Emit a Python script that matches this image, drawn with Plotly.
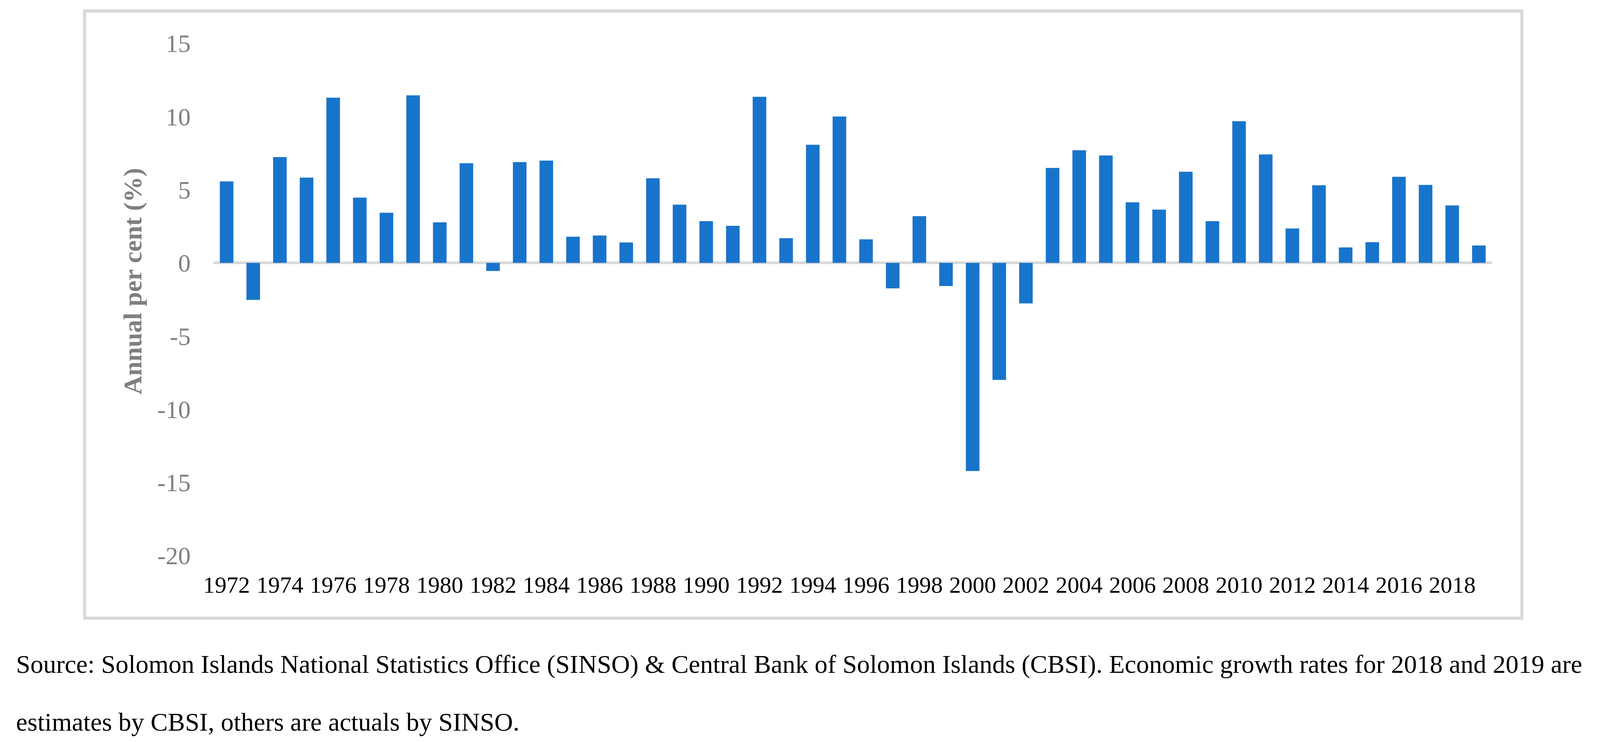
import plotly.graph_objects as go

years = list(range(1972, 2020))
growth = [5.57, -2.53, 7.23, 5.83, 11.29, 4.46, 3.43, 11.45, 2.77, 6.81,
          -0.55, 6.89, 6.99, 1.79, 1.87, 1.40, 5.78, 3.98, 2.85, 2.53,
          11.35, 1.69, 8.07, 10.0, 1.61, -1.74, 3.19, -1.58, -14.22, -7.99,
          -2.77, 6.49, 7.70, 7.34, 4.14, 3.64, 6.23, 2.85, 9.68, 7.41,
          2.35, 5.30, 1.06, 1.42, 5.88, 5.33, 3.93, 1.19]
tick_years = list(range(1972, 2019, 2))
y_ticks = [-20, -15, -10, -5, 0, 5, 10, 15]
y_ticktext = ["-20", "-15", "-10", "-5", "0", "5", "10", "15"]

y_title = "Annual per cent (%)"
caption1 = ("Source: Solomon Islands National Statistics Office (SINSO) &amp; Central Bank of Solomon "
            "Islands (CBSI). Economic growth rates for 2018 and 2019 are")
caption2 = "estimates by CBSI, others are actuals by SINSO."

# The browser viewport is 4096 px wide (body margin 8 px), so the layout of the
# 4426 px reference is mapped horizontally into it.
REF_W = 4426
VIEW_W = 4096
PAGE_MARGIN = 8
K = VIEW_W / REF_W
W, H = VIEW_W - 2 * PAGE_MARGIN, 1899 - 2 * PAGE_MARGIN


def fx(x_ref):
    return x_ref * K - PAGE_MARGIN


def fy(y_ref):
    return y_ref - PAGE_MARGIN


L = fx(590)
R = W - fx(4128)
T = fy(111)
B = H - fy(1422)
pw, ph = W - L - R, H - T - B


def px_x(x_ref):
    return (fx(x_ref) - L) / pw


def px_y(y_ref):
    return (H - B - fy(y_ref)) / ph


fig = go.Figure()
fig.add_trace(go.Bar(x=years, y=growth, width=0.51,
                     marker=dict(color="#1874CB", line=dict(width=0))))

serif = "Liberation Serif, Times New Roman, serif"
fig.update_layout(
    width=W, height=H,
    margin=dict(l=L, r=R, t=T, b=B, pad=0),
    paper_bgcolor="white", plot_bgcolor="white",
    showlegend=False,
    xaxis=dict(range=[1971.5, 2019.5], tickmode="array", tickvals=tick_years,
               ticktext=[str(y) for y in tick_years], showgrid=False,
               zeroline=False, showline=False, ticks="",
               tickfont=dict(family=serif, size=60, color="black"),
               ticklabelstandoff=34),
    yaxis=dict(range=[-20, 15], tickmode="array", tickvals=y_ticks,
               ticktext=y_ticktext,
               showgrid=False, zeroline=True, zerolinecolor="#d9d9d9",
               zerolinewidth=7, showline=False, ticks="",
               tickfont=dict(family=serif, size=64, color="#7f7f7f"),
               ticklabelstandoff=57),
    shapes=[dict(type="rect", xref="paper", yref="paper",
                 x0=px_x(234), x1=px_x(4210), y0=px_y(1582), y1=px_y(28),
                 line=dict(color="#d9d9d9", width=8), fillcolor="rgba(0,0,0,0)",
                 layer="below")],
    annotations=[
        dict(text="<b>" + y_title + "</b>", xref="paper", yref="paper",
             x=px_x(367), y=px_y(720), textangle=-90, showarrow=False,
             font=dict(family=serif, size=66, color="#7f7f7f"),
             xanchor="center", yanchor="middle"),
        dict(text=caption1, xref="paper", yref="paper",
             x=px_x(42), y=px_y(1700), showarrow=False,
             xanchor="left", yanchor="middle",
             font=dict(family=serif, size=66, color="black")),
        dict(text=caption2, xref="paper", yref="paper",
             x=px_x(42), y=px_y(1847), showarrow=False,
             xanchor="left", yanchor="middle",
             font=dict(family=serif, size=66, color="black")),
    ],
)

fig.write_html("out.html")
